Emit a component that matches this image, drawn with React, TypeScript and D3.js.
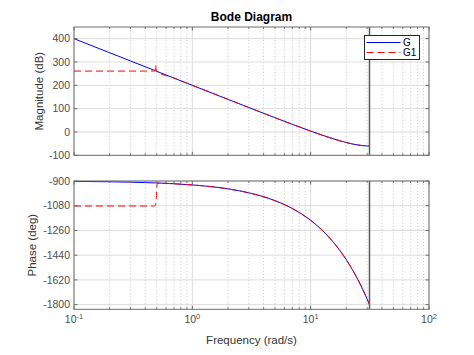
import React from "react";
import * as d3 from "d3";

// ---- data ----
const gFreq = [0.1, 0.2, 0.3, 0.5, 0.7, 1, 2, 3, 5, 7, 10, 12, 15, 17.5, 20, 22.5, 25, 27.5, 30, 31.4];
const gMag = [400.0, 339.8, 304.6, 260.2, 231.0, 200.0, 139.9, 104.9, 61.1, 32.8, 3.65, -10.6, -26.9, -37.2, -45.2, -51.3, -55.7, -58.5, -60.0, -60.2];
const gPhase = [-902.9, -905.7, -908.6, -914.3, -920.1, -928.6, -957.3, -985.9, -1043.2, -1100.5, -1186.5, -1243.8, -1329.7, -1401.3, -1473.0, -1544.6, -1616.2, -1687.8, -1759.4, -1799.5];

const g1Freq = [0.1, 0.2, 0.3, 0.4, 0.47, 0.485, 0.49, 0.495, 0.5, 0.7, 1, 2, 3, 5, 7, 10, 12, 15, 17.5, 20, 22.5, 25, 27.5, 30, 31.4];
const g1Mag = [261, 261, 261, 261, 261, 264, 289, 268, 260.2, 231.0, 200.0, 139.9, 104.9, 61.1, 32.8, 3.65, -10.6, -26.9, -37.2, -45.2, -51.3, -55.7, -58.5, -60.0, -60.2];
const g1PhFreq = [0.1, 0.2, 0.3, 0.4, 0.47, 0.485, 0.495, 0.5, 0.505, 0.52, 0.7, 1, 2, 3, 5, 7, 10, 12, 15, 17.5, 20, 22.5, 25, 27.5, 30, 31.4];
const g1Phase = [-1082, -1082, -1082, -1082, -1082, -1079, -1040, -960, -918, -914.8, -920.1, -928.6, -957.3, -985.9, -1043.2, -1100.5, -1186.5, -1243.8, -1329.7, -1401.3, -1473.0, -1544.6, -1616.2, -1687.8, -1759.4, -1799.5];

const magTicks = [-100, 0, 100, 200, 300, 400];
const phaseTicks = [-900, -1080, -1260, -1440, -1620, -1800];
const decadeTicks = [0.1, 1, 10, 100];
const decadeExp = ["-1", "0", "1", "2"];
const nyquistFreq = 31.4159;
const seriesNames = ["G", "G1"];

// ---- layout ----
const W = 474, H = 355;
const L = 74, R = 429;
const magTop = 27, magBot = 155.3;
const phTop = 181, phBot = 309.3;

const FONT = "'Liberation Sans', Arial, Helvetica, sans-serif";
const FRAME = "#6e6e6e";
const TICKTXT = "#4d4d4d";

const x = d3.scaleLog().domain([0.1, 100]).range([L, R]);
const yMag = d3.scaleLinear().domain([-100, 450]).range([magBot, magTop]);
const yPh = d3.scaleLinear().domain([-1834, -900]).range([phBot, phTop]);

const minorTicks: number[] = [];
for (const dec of [0.1, 1, 10]) for (let k = 2; k <= 9; k++) minorTicks.push(dec * k);

function Panel({ y, top, bot, ticks, showX, data }: any) {
  const lineG = d3.line<number>().x((_, i) => x(data.gF[i])).y((v) => y(v)).curve(d3.curveMonotoneX);
  const lineG1 = d3.line<number>().x((_, i) => x(data.g1F[i])).y((v) => y(v)).curve(d3.curveMonotoneX);
  return (
    <g>
      {minorTicks.map((t) => (
        <line key={"mg" + t} x1={x(t)} x2={x(t)} y1={top} y2={bot} stroke="#c4c4c4" strokeWidth={0.8} strokeDasharray="1.2,2" />
      ))}
      {decadeTicks.map((t) => (
        <line key={"Mg" + t} x1={x(t)} x2={x(t)} y1={top} y2={bot} stroke="#dcdcdc" strokeWidth={1} />
      ))}
      {ticks.map((t: number) => (
        <line key={"hg" + t} x1={L} x2={R} y1={y(t)} y2={y(t)} stroke="#dcdcdc" strokeWidth={1} />
      ))}
      <path d={lineG(data.gV) || ""} fill="none" stroke="#0000ff" strokeWidth={1} />
      <path d={lineG1(data.g1V) || ""} fill="none" stroke="#ff0000" strokeWidth={1} strokeDasharray="7,4" />
      <line x1={x(nyquistFreq)} x2={x(nyquistFreq)} y1={top} y2={bot} stroke="#5a5a5a" strokeWidth={1.5} />
      <rect x={L} y={top} width={R - L} height={bot - top} fill="none" stroke={FRAME} strokeWidth={1} />
      {ticks.map((t: number) => (
        <g key={"yt" + t}>
          <line x1={L} x2={L + 3.5} y1={y(t)} y2={y(t)} stroke={FRAME} />
          <line x1={R} x2={R - 3.5} y1={y(t)} y2={y(t)} stroke={FRAME} />
          <text x={70} y={y(t)} dy="0.35em" textAnchor="end" fontSize={10.5} fill={TICKTXT} fontFamily={FONT}>
            {t}
          </text>
        </g>
      ))}
      {decadeTicks.map((t) => (
        <g key={"xt" + t}>
          <line x1={x(t)} x2={x(t)} y1={bot} y2={bot - 3.5} stroke={FRAME} />
          <line x1={x(t)} x2={x(t)} y1={top} y2={top + 3.5} stroke={FRAME} />
        </g>
      ))}
      {minorTicks.map((t) => (
        <g key={"xm" + t}>
          <line x1={x(t)} x2={x(t)} y1={bot} y2={bot - 2} stroke={FRAME} />
          <line x1={x(t)} x2={x(t)} y1={top} y2={top + 2} stroke={FRAME} />
        </g>
      ))}
      {showX &&
        decadeTicks.map((t, i) => (
          <text key={"xl" + t} x={x(t)} y={bot + 14} textAnchor="middle" fontSize={10.5} fill={TICKTXT} fontFamily={FONT}>
            10
            <tspan dy={-4.5} fontSize={7.5}>{decadeExp[i]}</tspan>
          </text>
        ))}
    </g>
  );
}

export default function App() {
  return (
    <svg width={W} height={H} style={{ position: "absolute", left: 0, top: 0, background: "#fff" }}>
      <rect x={0} y={0} width={W} height={H} fill="#fff" />
      <text x={(L + R) / 2} y={20.5} textAnchor="middle" fontSize={12} fontWeight="bold" fill="#000" fontFamily={FONT}>
        Bode Diagram
      </text>
      <Panel y={yMag} top={magTop} bot={magBot} ticks={magTicks} showX={false}
        data={{ gF: gFreq, gV: gMag, g1F: g1Freq, g1V: g1Mag }} />
      <Panel y={yPh} top={phTop} bot={phBot} ticks={phaseTicks} showX={true}
        data={{ gF: gFreq, gV: gPhase, g1F: g1PhFreq, g1V: g1Phase }} />
      <text transform={`translate(43,${(magTop + magBot) / 2}) rotate(-90)`} textAnchor="middle" fontSize={11.5} fill="#333" fontFamily={FONT}>
        Magnitude (dB)
      </text>
      <text transform={`translate(36,${(phTop + phBot) / 2}) rotate(-90)`} textAnchor="middle" fontSize={11.5} fill="#333" fontFamily={FONT}>
        Phase (deg)
      </text>
      <text x={(L + R) / 2} y={344} textAnchor="middle" fontSize={11.5} fill="#333" fontFamily={FONT}>
        Frequency (rad/s)
      </text>
      <g>
        <rect x={364.5} y={35.5} width={55} height={24} fill="#fff" stroke="#262626" strokeWidth={1} />
        <line x1={366.5} x2={400.5} y1={42.5} y2={42.5} stroke="#0000ff" strokeWidth={1} />
        <text x={403} y={42.5} dy="0.35em" fontSize={10} fill="#000" fontFamily={FONT}>{seriesNames[0]}</text>
        <line x1={366.5} x2={400.5} y1={52.5} y2={52.5} stroke="#ff0000" strokeWidth={1} strokeDasharray="7,4" />
        <text x={403} y={52.5} dy="0.35em" fontSize={10} fill="#000" fontFamily={FONT}>{seriesNames[1]}</text>
      </g>
    </svg>
  );
}
